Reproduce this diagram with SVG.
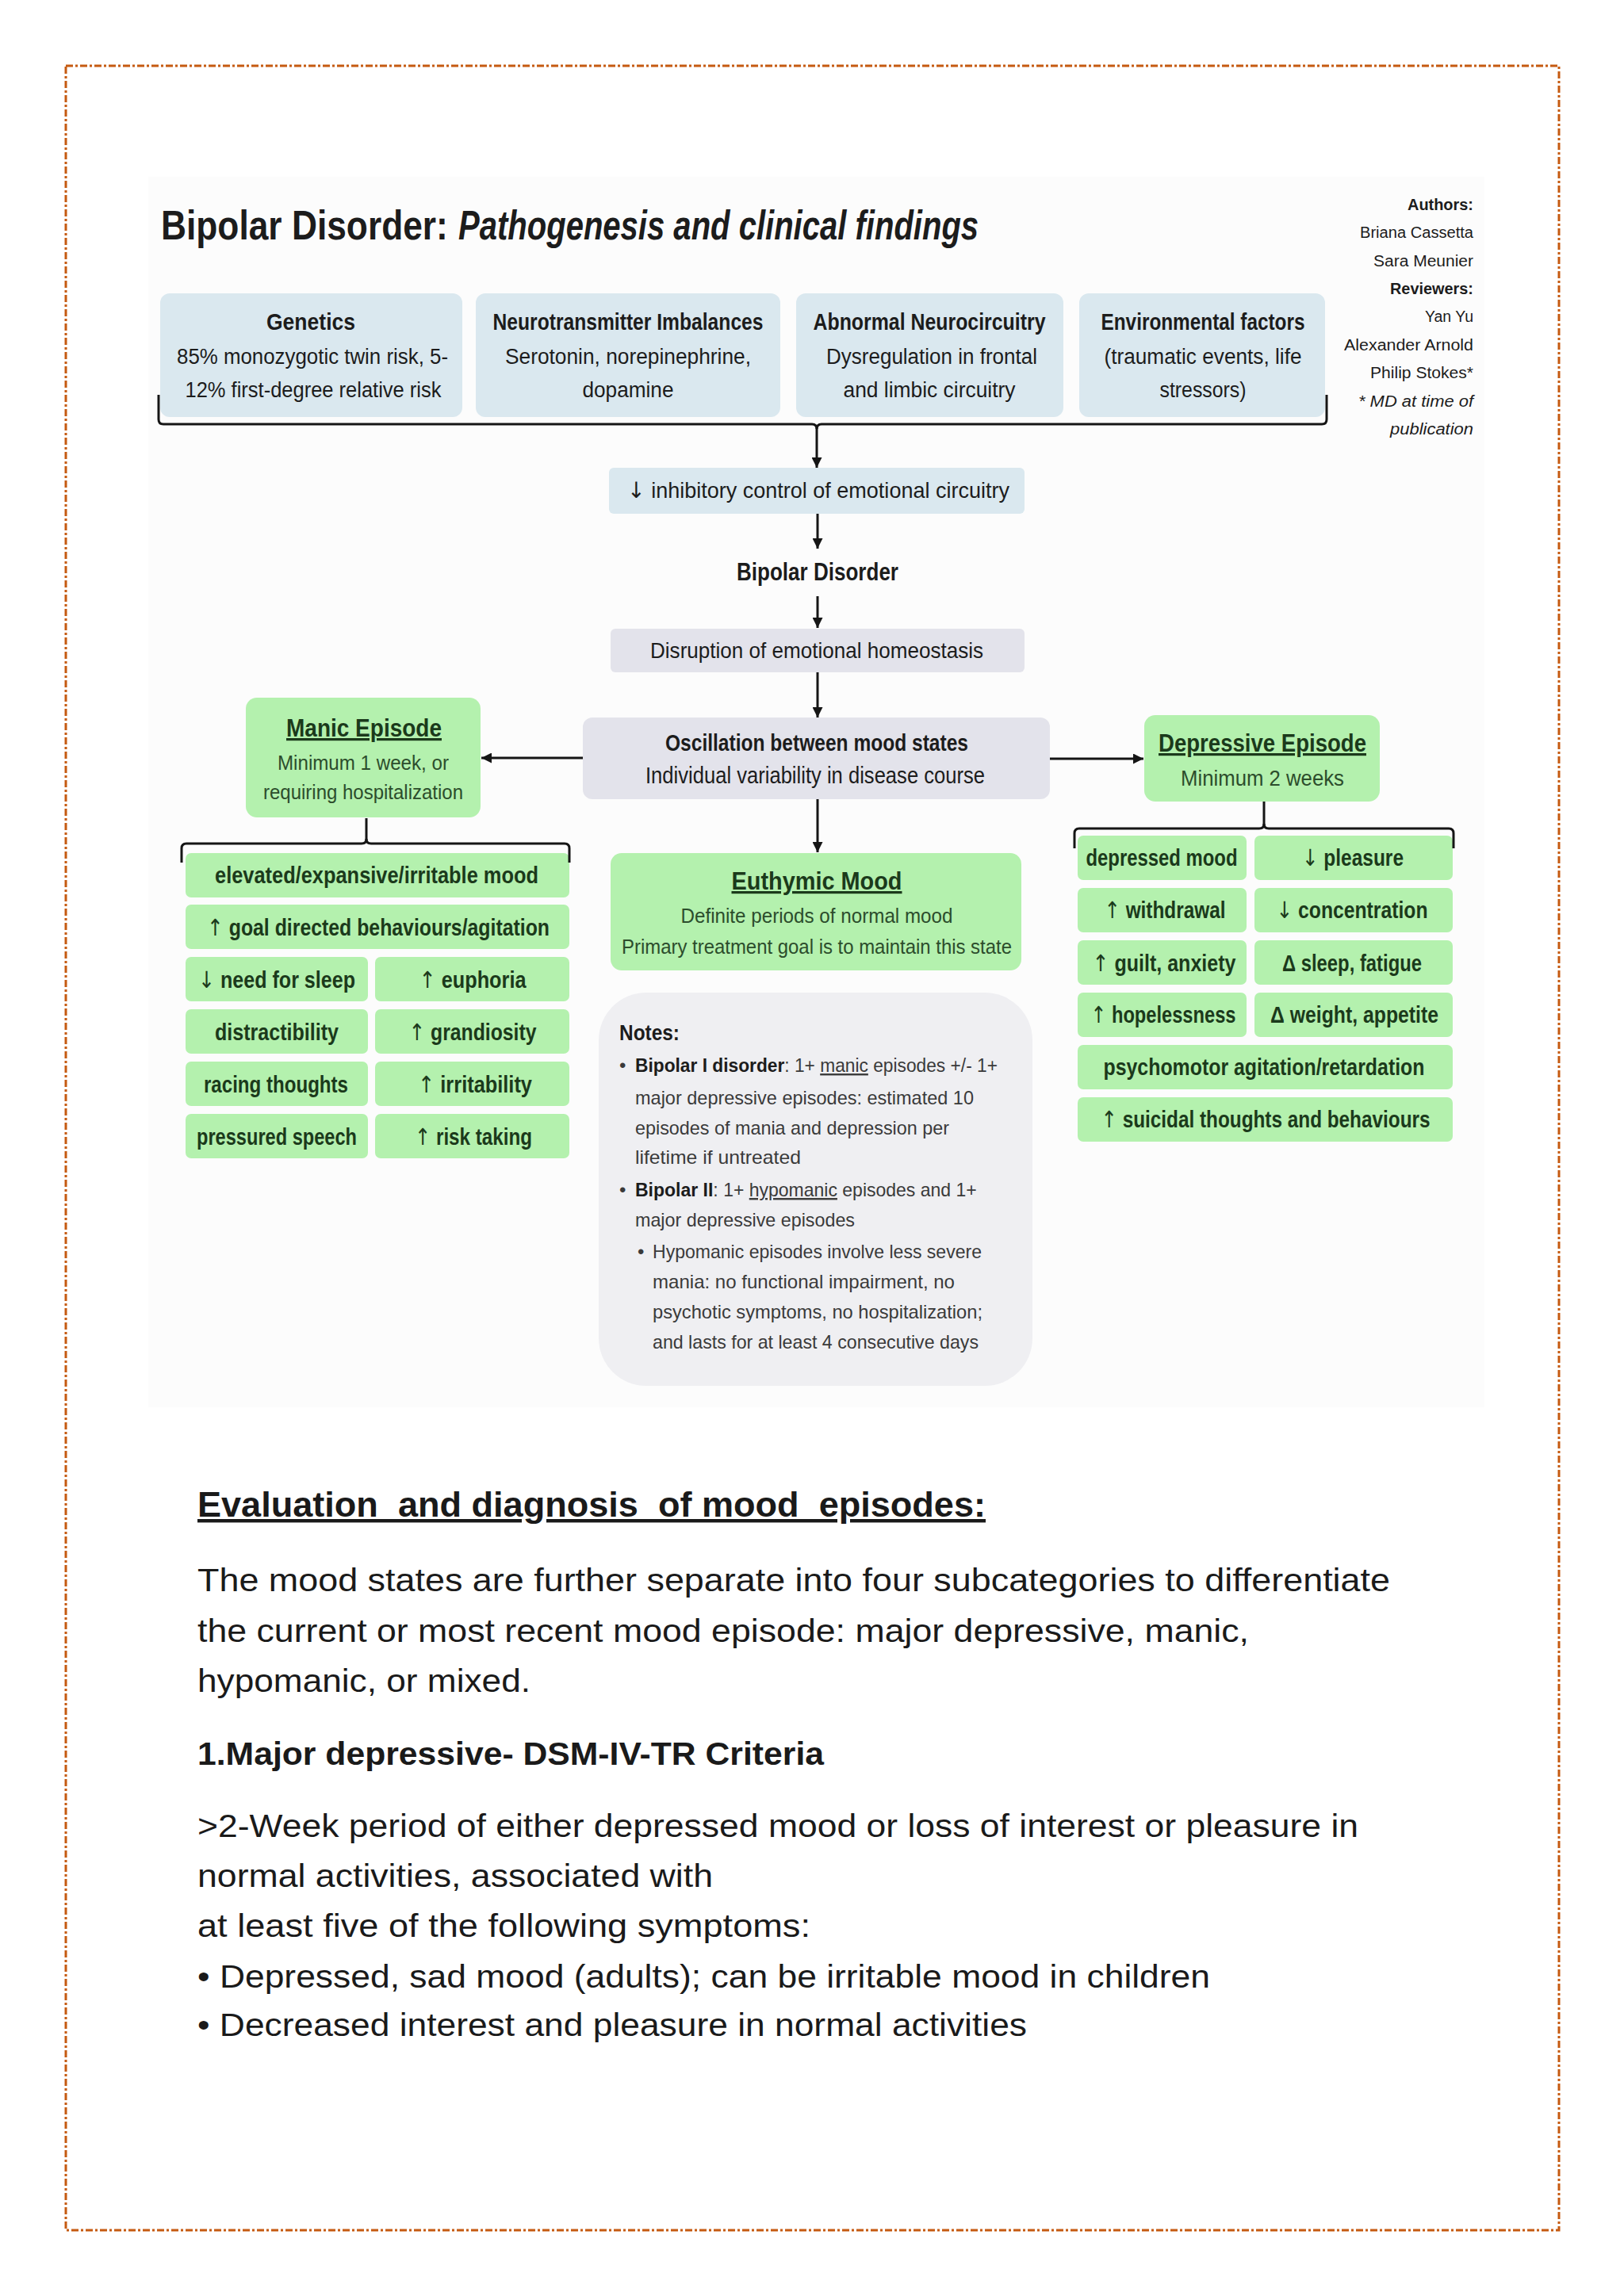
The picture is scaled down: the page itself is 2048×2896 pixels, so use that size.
<svg xmlns="http://www.w3.org/2000/svg" width="2048" height="2896" viewBox="0 0 2048 2896">
<defs>
<style>
text{font-family:'Liberation Sans',Arial,'DejaVu Sans',sans-serif;}
.b{font-weight:bold;}
.i{font-style:italic;}
.c{text-anchor:middle;}
.e{text-anchor:end;}
.ar{font-family:'DejaVu Sans',sans-serif;font-weight:normal;}
.blue{fill:#dae8ef;}
.grey{fill:#e3e3eb;}
.green{fill:#b4f1ae;}
.dk{fill:#1c1c1c;}
.gt{fill:#1b3a1b;}
.gn{fill:#2c4d2c;}
.nt{fill:#3a3a3a;}
.conn{stroke:#151515;stroke-width:3;fill:none;}
</style>
<marker id="ah" viewBox="0 0 10 10" markerWidth="15" markerHeight="13" refX="10" refY="5" orient="auto" markerUnits="userSpaceOnUse">
<path d="M0,0 L10,5 L0,10 z" fill="#151515"/>
</marker>
</defs>
<rect x="0" y="0" width="2048" height="2896" fill="#ffffff"/>
<rect x="83" y="83" width="1883" height="2730" fill="none" stroke="#c55a11" stroke-width="3" stroke-dasharray="9 3 3 3"/>
<rect x="187" y="223" width="1685" height="1552" fill="#fcfcfc"/>

<g id="title">
<text transform="translate(203,302) scale(0.852,1)" class="b dk" font-size="52">Bipolar Disorder:</text>
<text transform="translate(578,302) scale(0.77,1)" class="b i dk" font-size="52">Pathogenesis and clinical findings</text>
</g>

<g id="authors" font-size="20" class="dk">
<text x="1858" y="265" class="e b" textLength="83" lengthAdjust="spacingAndGlyphs">Authors:</text>
<text x="1858" y="300" class="e" textLength="143" lengthAdjust="spacingAndGlyphs">Briana Cassetta</text>
<text x="1858" y="336" class="e" textLength="126" lengthAdjust="spacingAndGlyphs">Sara Meunier</text>
<text x="1858" y="371" class="e b" textLength="105" lengthAdjust="spacingAndGlyphs">Reviewers:</text>
<text x="1858" y="406" class="e" textLength="61" lengthAdjust="spacingAndGlyphs">Yan Yu</text>
<text x="1858" y="442" class="e" textLength="163" lengthAdjust="spacingAndGlyphs">Alexander Arnold</text>
<text x="1858" y="477" class="e" textLength="130" lengthAdjust="spacingAndGlyphs">Philip Stokes*</text>
<text x="1858" y="513" class="e i" textLength="145" lengthAdjust="spacingAndGlyphs">* MD at time of</text>
<text x="1858" y="548" class="e i" textLength="105" lengthAdjust="spacingAndGlyphs">publication</text>
</g>

<g id="genetics">
<rect x="202" y="370" width="381" height="156" rx="12" class="blue"/>
<text x="392" y="416" class="c b dk" font-size="30" textLength="112" lengthAdjust="spacingAndGlyphs">Genetics</text>
<text x="394" y="459" class="c dk" font-size="27" textLength="342" lengthAdjust="spacingAndGlyphs">85% monozygotic twin risk, 5-</text>
<text x="395" y="501" class="c dk" font-size="27" textLength="323" lengthAdjust="spacingAndGlyphs">12% first-degree relative risk</text>
</g>
<g id="neurotransmitter">
<rect x="600" y="370" width="384" height="156" rx="12" class="blue"/>
<text x="792" y="416" class="c b dk" font-size="30" textLength="341" lengthAdjust="spacingAndGlyphs">Neurotransmitter Imbalances</text>
<text x="792" y="459" class="c dk" font-size="27" textLength="310" lengthAdjust="spacingAndGlyphs">Serotonin, norepinephrine,</text>
<text x="792" y="501" class="c dk" font-size="27" textLength="115" lengthAdjust="spacingAndGlyphs">dopamine</text>
</g>
<g id="neurocircuitry">
<rect x="1004" y="370" width="337" height="156" rx="12" class="blue"/>
<text x="1172" y="416" class="c b dk" font-size="30" textLength="293" lengthAdjust="spacingAndGlyphs">Abnormal Neurocircuitry</text>
<text x="1175" y="459" class="c dk" font-size="27" textLength="266" lengthAdjust="spacingAndGlyphs">Dysregulation in frontal</text>
<text x="1172" y="501" class="c dk" font-size="27" textLength="217" lengthAdjust="spacingAndGlyphs">and limbic circuitry</text>
</g>
<g id="environmental">
<rect x="1361" y="370" width="310" height="156" rx="12" class="blue"/>
<text x="1517" y="416" class="c b dk" font-size="30" textLength="257" lengthAdjust="spacingAndGlyphs">Environmental factors</text>
<text x="1517" y="459" class="c dk" font-size="27" textLength="249" lengthAdjust="spacingAndGlyphs">(traumatic events, life</text>
<text x="1517" y="501" class="c dk" font-size="27" textLength="109" lengthAdjust="spacingAndGlyphs">stressors)</text>
</g>

<g id="inhibitory">
<rect x="768" y="590" width="524" height="58" rx="6" class="blue"/>
<text x="1032" y="628" class="c dk" font-size="28" textLength="482" lengthAdjust="spacingAndGlyphs"><tspan class="ar">↓</tspan> inhibitory control of emotional circuitry</text>
</g>
<g id="bipolar">
<text x="1031" y="732" class="c b dk" font-size="31" textLength="204" lengthAdjust="spacingAndGlyphs">Bipolar Disorder</text>
</g>
<g id="disruption">
<rect x="770" y="793" width="522" height="55" rx="6" class="grey"/>
<text x="1030" y="830" class="c dk" font-size="28" textLength="420" lengthAdjust="spacingAndGlyphs">Disruption of emotional homeostasis</text>
</g>
<g id="oscillation">
<rect x="735" y="905" width="589" height="103" rx="12" class="grey"/>
<text x="1030" y="947" class="c b dk" font-size="29" textLength="382" lengthAdjust="spacingAndGlyphs">Oscillation between mood states</text>
<text x="1028" y="988" class="c dk" font-size="29" textLength="428" lengthAdjust="spacingAndGlyphs">Individual variability in disease course</text>
</g>

<g id="manic">
<rect x="310" y="880" width="296" height="151" rx="14" class="green"/>
<text x="459" y="929" class="c b gt" font-size="32" text-decoration="underline" textLength="196" lengthAdjust="spacingAndGlyphs">Manic Episode</text>
<text x="458" y="971" class="c gn" font-size="26" textLength="216" lengthAdjust="spacingAndGlyphs">Minimum 1 week, or</text>
<text x="458" y="1008" class="c gn" font-size="26" textLength="252" lengthAdjust="spacingAndGlyphs">requiring hospitalization</text>
</g>
<g id="manic-symptoms" class="b gt" font-size="29">
<rect x="234" y="1076" width="484" height="56" rx="7" class="green"/>
<text x="475" y="1114" class="c" textLength="408" lengthAdjust="spacingAndGlyphs">elevated/expansive/irritable mood</text>
<rect x="234" y="1141" width="484" height="56" rx="7" class="green"/>
<text x="477" y="1180" class="c" textLength="432" lengthAdjust="spacingAndGlyphs"><tspan class="ar">↑</tspan> goal directed behaviours/agitation</text>
<rect x="234" y="1207" width="230" height="56" rx="7" class="green"/>
<text x="349" y="1246" class="c" textLength="198" lengthAdjust="spacingAndGlyphs"><tspan class="ar">↓</tspan> need for sleep</text>
<rect x="473" y="1207" width="245" height="56" rx="7" class="green"/>
<text x="596" y="1246" class="c" textLength="135" lengthAdjust="spacingAndGlyphs"><tspan class="ar">↑</tspan> euphoria</text>
<rect x="234" y="1273" width="230" height="56" rx="7" class="green"/>
<text x="349" y="1312" class="c" textLength="156" lengthAdjust="spacingAndGlyphs">distractibility</text>
<rect x="473" y="1273" width="245" height="56" rx="7" class="green"/>
<text x="596" y="1312" class="c" textLength="161" lengthAdjust="spacingAndGlyphs"><tspan class="ar">↑</tspan> grandiosity</text>
<rect x="234" y="1339" width="230" height="56" rx="7" class="green"/>
<text x="348" y="1378" class="c" textLength="182" lengthAdjust="spacingAndGlyphs">racing thoughts</text>
<rect x="473" y="1339" width="245" height="56" rx="7" class="green"/>
<text x="599" y="1378" class="c" textLength="144" lengthAdjust="spacingAndGlyphs"><tspan class="ar">↑</tspan> irritability</text>
<rect x="234" y="1405" width="230" height="56" rx="7" class="green"/>
<text x="349" y="1444" class="c" textLength="202" lengthAdjust="spacingAndGlyphs">pressured speech</text>
<rect x="473" y="1405" width="245" height="56" rx="7" class="green"/>
<text x="597" y="1444" class="c" textLength="148" lengthAdjust="spacingAndGlyphs"><tspan class="ar">↑</tspan> risk taking</text>
</g>

<g id="depressive">
<rect x="1443" y="902" width="297" height="109" rx="14" class="green"/>
<text x="1592" y="948" class="c b gt" font-size="32" text-decoration="underline" textLength="262" lengthAdjust="spacingAndGlyphs">Depressive Episode</text>
<text x="1592" y="991" class="c gn" font-size="27" textLength="206" lengthAdjust="spacingAndGlyphs">Minimum 2 weeks</text>
</g>
<g id="depressive-symptoms" class="b gt" font-size="29">
<rect x="1359" y="1054" width="213" height="56" rx="7" class="green"/>
<text x="1465" y="1092" class="c" textLength="191" lengthAdjust="spacingAndGlyphs">depressed mood</text>
<rect x="1582" y="1054" width="250" height="56" rx="7" class="green"/>
<text x="1706" y="1092" class="c" textLength="128" lengthAdjust="spacingAndGlyphs"><tspan class="ar">↓</tspan> pleasure</text>
<rect x="1359" y="1120" width="213" height="56" rx="7" class="green"/>
<text x="1469" y="1158" class="c" textLength="153" lengthAdjust="spacingAndGlyphs"><tspan class="ar">↑</tspan> withdrawal</text>
<rect x="1582" y="1120" width="250" height="56" rx="7" class="green"/>
<text x="1705" y="1158" class="c" textLength="191" lengthAdjust="spacingAndGlyphs"><tspan class="ar">↓</tspan> concentration</text>
<rect x="1359" y="1186" width="213" height="56" rx="7" class="green"/>
<text x="1468" y="1225" class="c" textLength="181" lengthAdjust="spacingAndGlyphs"><tspan class="ar">↑</tspan> guilt, anxiety</text>
<rect x="1582" y="1186" width="250" height="56" rx="7" class="green"/>
<text x="1705" y="1225" class="c" textLength="176" lengthAdjust="spacingAndGlyphs">Δ sleep, fatigue</text>
<rect x="1359" y="1252" width="213" height="56" rx="7" class="green"/>
<text x="1467" y="1290" class="c" textLength="183" lengthAdjust="spacingAndGlyphs"><tspan class="ar">↑</tspan> hopelessness</text>
<rect x="1582" y="1252" width="250" height="56" rx="7" class="green"/>
<text x="1708" y="1290" class="c" textLength="212" lengthAdjust="spacingAndGlyphs">Δ weight, appetite</text>
<rect x="1359" y="1318" width="473" height="56" rx="7" class="green"/>
<text x="1594" y="1356" class="c" textLength="405" lengthAdjust="spacingAndGlyphs">psychomotor agitation/retardation</text>
<rect x="1359" y="1384" width="473" height="56" rx="7" class="green"/>
<text x="1596" y="1422" class="c" textLength="415" lengthAdjust="spacingAndGlyphs"><tspan class="ar">↑</tspan> suicidal thoughts and behaviours</text>
</g>

<g id="euthymic">
<rect x="770" y="1076" width="518" height="148" rx="14" class="green"/>
<text x="1030" y="1122" class="c b gt" font-size="32" text-decoration="underline" textLength="215" lengthAdjust="spacingAndGlyphs">Euthymic Mood</text>
<text x="1030" y="1164" class="c gn" font-size="25" textLength="343" lengthAdjust="spacingAndGlyphs">Definite periods of normal mood</text>
<text x="1030" y="1203" class="c gn" font-size="25" textLength="492" lengthAdjust="spacingAndGlyphs">Primary treatment goal is to maintain this state</text>
</g>

<g id="notes">
<rect x="755" y="1252" width="547" height="496" rx="60" fill="#efeff2"/>
<text x="781" y="1312" class="b dk" font-size="27" textLength="76" lengthAdjust="spacingAndGlyphs">Notes:</text>
<g font-size="24" class="nt">
<text x="781" y="1352">•</text>
<text transform="translate(801,1352) scale(0.948,1)"><tspan class="b" fill="#1c1c1c">Bipolar I disorder</tspan>: 1+ <tspan text-decoration="underline">manic</tspan> episodes +/- 1+</text>
<text x="801" y="1393" textLength="427" lengthAdjust="spacingAndGlyphs">major depressive episodes: estimated 10</text>
<text x="801" y="1431" textLength="396" lengthAdjust="spacingAndGlyphs">episodes of mania and depression per</text>
<text x="801" y="1468" textLength="209" lengthAdjust="spacingAndGlyphs">lifetime if untreated</text>
<text x="781" y="1509">•</text>
<text transform="translate(801,1509) scale(0.958,1)"><tspan class="b" fill="#1c1c1c">Bipolar II</tspan>: 1+ <tspan text-decoration="underline">hypomanic</tspan> episodes and 1+</text>
<text x="801" y="1547" textLength="277" lengthAdjust="spacingAndGlyphs">major depressive episodes</text>
<text x="804" y="1587">•</text>
<text x="823" y="1587" textLength="415" lengthAdjust="spacingAndGlyphs">Hypomanic episodes involve less severe</text>
<text x="823" y="1625" textLength="381" lengthAdjust="spacingAndGlyphs">mania: no functional impairment, no</text>
<text x="823" y="1663" textLength="416" lengthAdjust="spacingAndGlyphs">psychotic symptoms, no hospitalization;</text>
<text x="823" y="1701" textLength="411" lengthAdjust="spacingAndGlyphs">and lasts for at least 4 consecutive days</text>
</g>
</g>

<g id="connectors" class="conn">
<path d="M200,498 V529 Q200,535 206,535 H1024 Q1030,535 1030,541 Q1030,535 1036,535 H1667 Q1673,535 1673,529 V498"/>
<line x1="1030" y1="538" x2="1030" y2="590" marker-end="url(#ah)"/>
<line x1="1031" y1="648" x2="1031" y2="692" marker-end="url(#ah)"/>
<line x1="1031" y1="752" x2="1031" y2="792" marker-end="url(#ah)"/>
<line x1="1031" y1="848" x2="1031" y2="905" marker-end="url(#ah)"/>
<line x1="1031" y1="1008" x2="1031" y2="1075" marker-end="url(#ah)"/>
<line x1="735" y1="956" x2="607" y2="956" marker-end="url(#ah)"/>
<line x1="1324" y1="957" x2="1442" y2="957" marker-end="url(#ah)"/>
<path d="M229,1088 V1070 Q229,1064 235,1064 H456 Q462,1064 462,1058 Q462,1064 468,1064 H712 Q718,1064 718,1070 V1088"/>
<line x1="462" y1="1032" x2="462" y2="1060"/>
<path d="M1355,1070 V1051 Q1355,1045 1361,1045 H1588 Q1594,1045 1594,1039 Q1594,1045 1600,1045 H1827 Q1833,1045 1833,1051 V1070"/>
<line x1="1594" y1="1011" x2="1594" y2="1041"/>
</g>

<g id="evaluation" fill="#1a1a1a">
<text x="249" y="1913" class="b" font-size="44" text-decoration="underline" textLength="994" lengthAdjust="spacingAndGlyphs" xml:space="preserve">Evaluation  and diagnosis  of mood  episodes:</text>
<text x="249" y="2007" font-size="41" textLength="1504" lengthAdjust="spacingAndGlyphs">The mood states are further separate into four subcategories to differentiate</text>
<text x="249" y="2071" font-size="41" textLength="1326" lengthAdjust="spacingAndGlyphs">the current or most recent mood episode: major depressive, manic,</text>
<text x="249" y="2134" font-size="41" textLength="420" lengthAdjust="spacingAndGlyphs">hypomanic, or mixed.</text>
<text x="249" y="2226" class="b" font-size="41" textLength="790" lengthAdjust="spacingAndGlyphs">1.Major depressive- DSM-IV-TR Criteria</text>
<text x="249" y="2317" font-size="41" textLength="1464" lengthAdjust="spacingAndGlyphs">&gt;2-Week period of either depressed mood or loss of interest or pleasure in</text>
<text x="249" y="2380" font-size="41" textLength="650" lengthAdjust="spacingAndGlyphs">normal activities, associated with</text>
<text x="249" y="2443" font-size="41" textLength="773" lengthAdjust="spacingAndGlyphs">at least five of the following symptoms:</text>
<text x="249" y="2507" font-size="41" textLength="1277" lengthAdjust="spacingAndGlyphs">• Depressed, sad mood (adults); can be irritable mood in children</text>
<text x="249" y="2568" font-size="41" textLength="1046" lengthAdjust="spacingAndGlyphs">• Decreased interest and pleasure in normal activities</text>
</g>
</svg>
